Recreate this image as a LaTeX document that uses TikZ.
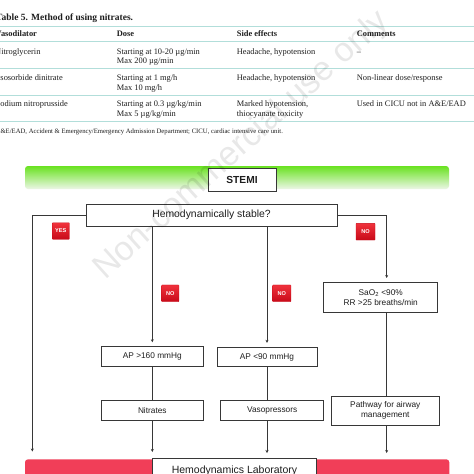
\documentclass[tikz,border=0pt]{standalone}
\usepackage{fontspec}
\setmainfont{Liberation Serif}
\newfontfamily\arialf{Liberation Sans}
\usetikzlibrary{arrows.meta,calc}
\definecolor{rulec}{RGB}{178,222,218}
\definecolor{ink}{RGB}{30,30,30}
\definecolor{boxline}{RGB}{55,55,55}
\definecolor{barred}{RGB}{241,62,88}
\definecolor{gtop}{RGB}{105,226,32}
\definecolor{gbot}{RGB}{236,246,230}
\definecolor{tagtop}{RGB}{240,50,60}
\definecolor{tagbot}{RGB}{200,10,25}
\begin{document}
\begin{tikzpicture}[x=1pt,y=-1pt,
  tcell/.style={anchor=base west, inner sep=0pt, text=ink, font=\fontsize{8.4}{10}\selectfont},
  thead/.style={tcell, font=\bfseries\fontsize{8.4}{10}\selectfont},
  trule/.style={draw=rulec, line width=0.8pt},
  fbox/.style={draw=boxline, line width=0.8pt, fill=white, inner sep=1pt, align=center, text=ink, font=\arialf\fontsize{8.3}{10}\selectfont},
  bigbox/.style={fbox, font=\arialf\fontsize{10.4}{12}\selectfont},
  tag/.style={top color=tagtop, bottom color=tagbot, draw=tagbot, line width=0.3pt, rounded corners=0.5pt, text=white, inner sep=0pt, font=\arialf\bfseries\fontsize{5.6}{6}\selectfont},
  conn/.style={draw=boxline, line width=0.9pt},
  arr/.style={conn, -{Stealth[length=3pt,width=3pt]}}
]
\useasboundingbox (0,0) rectangle (474,474);
\fill[white] (0,0) rectangle (474,474);

% ---------- table ----------
\node[tcell, font=\bfseries\fontsize{9.5}{11}\selectfont] (title) at (-4,20.4) {Table 5. Method of using nitrates.};
\draw[trule] (-2,26.7) -- (476,26.7);
\draw[trule] (-2,41.7) -- (476,41.7);
\draw[trule] (-2,68.3) -- (476,68.3);
\draw[trule] (-2,95.7) -- (476,95.7);
\draw[trule] (-2,121.7) -- (476,121.7);

\node[thead] (h1) at (-4.5,36.9) {Vasodilator};
\node[thead] (h2) at (116.7,36.9) {Dose};
\node[thead] (h3) at (236.7,36.9) {Side effects};
\node[thead] (h4) at (356.7,36.9) {Comments};

\node[tcell] (r1a) at (-5,54.6) {Nitroglycerin};
\node[tcell] (r1b) at (116.7,54.6) {Starting at 10-20 µg/min};
\node[tcell] (r1c) at (116.7,63.8) {Max 200 µg/min};
\node[tcell] (r1d) at (236.7,54.6) {Headache, hypotension};
\node[tcell] (r1e) at (356.7,54.6) {–};

\node[tcell] (r2a) at (-2.5,80.6) {Isosorbide dinitrate};
\node[tcell] (r2b) at (116.7,80.6) {Starting at 1 mg/h};
\node[tcell] (r2c) at (116.7,90.4) {Max 10 mg/h};
\node[tcell] (r2d) at (236.7,80.6) {Headache, hypotension};
\node[tcell] (r2e) at (356.7,80.6) {Non-linear dose/response};

\node[tcell] (r3a) at (-4.5,106.9) {Sodium nitroprusside};
\node[tcell] (r3b) at (116.7,106.9) {Starting at 0.3 µg/kg/min};
\node[tcell] (r3c) at (116.7,116.9) {Max 5 µg/kg/min};
\node[tcell] (r3d) at (236.7,106.9) {Marked hypotension,};
\node[tcell] (r3e) at (236.7,116.9) {thiocyanate toxicity};
\node[tcell] (r3f) at (356.7,106.9) {Used in CICU not in A\&E/EAD};

\node[tcell, font=\fontsize{6.7}{7.5}\selectfont] (foot) at (-4.5,133) {A\&E/EAD, Accident \& Emergency/Emergency Admission Department; CICU, cardiac intensive care unit.};

% ---------- flowchart ----------
\shade[top color=gtop, bottom color=gbot, rounded corners=3pt] (25,166) rectangle (449,189);
\node[fbox, font=\arialf\bfseries\fontsize{10.2}{12}\selectfont, minimum width=68pt, minimum height=23pt] (stemi) at (242,179.5) {STEMI};

\node[bigbox, minimum width=251pt, minimum height=22pt] (hemo) at (211.5,215) {Hemodynamically stable?};

\node[fbox, minimum width=114pt, minimum height=30pt] (sao) at (380.7,297.7) {SaO\textsubscript{2} <90\%\\RR >25 breaths/min};
\node[fbox, minimum width=102.7pt, minimum height=20pt] (ap160) at (152.3,356.7) {AP >160 mmHg};
\node[fbox, minimum width=100pt, minimum height=19.5pt] (ap90) at (267,357) {AP <90 mmHg};
\node[fbox, minimum width=102.7pt, minimum height=20pt] (nitr) at (152.3,410.7) {Nitrates};
\node[fbox, minimum width=103pt, minimum height=20pt] (vaso) at (272.2,410.7) {Vasopressors};
\node[fbox, minimum width=108pt, minimum height=29.7pt] (path) at (385.3,410.8) {Pathway for airway\\management};

% bottom bar
\fill[barred, rounded corners=3pt] (25,459.3) rectangle (449.3,500);
\draw[draw=boxline, line width=0.8pt, fill=white] (152.3,500) -- (152.3,458.3) -- (316.7,458.3) -- (316.7,500);
\node[inner sep=0pt, text=ink, font=\arialf\fontsize{10.5}{12}\selectfont] (lab) at (234.5,470.5) {Hemodynamics Laboratory};

% tags
\node[tag, minimum width=17pt, minimum height=16.5pt] (yes) at (60.8,231) {YES};
\node[tag, minimum width=19pt, minimum height=16.7pt] (no1) at (365.5,231.7) {NO};
\node[tag, minimum width=17.3pt, minimum height=16.7pt] (no2) at (170.3,293.3) {NO};
\node[tag, minimum width=18.3pt, minimum height=16.7pt] (no3) at (281.8,293.3) {NO};

% connectors
\coordinate (yesend) at (32.3,451.5);
\coordinate (saoin) at (386.7,278);
\coordinate (nitrend) at (152.3,452);
\coordinate (vasoend) at (267,453);
\coordinate (pathend) at (386.7,453);

\draw[arr] (hemo.west) -- (hemo.west -| yesend) -- (yesend);
\draw[arr] (hemo.east) -| (saoin);
\draw[conn] (saoin |- sao.south) -- (saoin |- path.north);
\draw[arr] (saoin |- path.south) -- (pathend);

\draw[arr, shorten >=4pt] (hemo.south -| ap160) -- (ap160.north);
\draw[conn] (ap160.south) -- (nitr.north);
\draw[arr] (nitr.south) -- (nitrend);

\draw[arr, shorten >=4pt] (hemo.south -| ap90) -- (ap90.north);
\draw[conn] (ap90.south) -- (ap90.south |- vaso.north);
\draw[arr] (ap90.south |- vaso.south) -- (vasoend);

% watermark
\node[rotate=42, text=black, text opacity=0.09, font=\arialf\fontsize{34}{34}\selectfont] (wm) at (242,146) {Non-commercial use only};
\end{tikzpicture}
\end{document}
